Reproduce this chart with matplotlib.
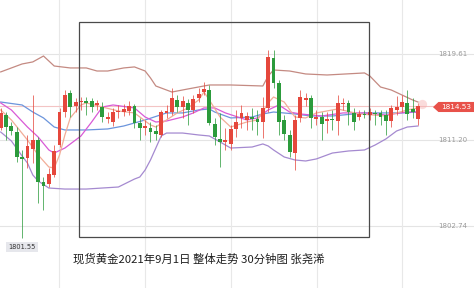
import matplotlib
matplotlib.use("Agg")
import matplotlib.pyplot as plt
from matplotlib.patches import Rectangle, Polygon
import numpy as np

plt.rcParams['font.family'] = ['Noto Sans CJK SC', 'DejaVu Sans']

# 30-minute spot gold candles: open, close, high, low
opens = [1812.36, 1813.63, 1812.55, 1811.96, 1809.51, 1809.41, 1810.30, 1811.18, 1807.06, 1806.86,
         1807.75, 1810.69, 1813.92, 1815.79, 1814.51, 1814.90, 1815.00, 1815.00, 1814.61, 1814.41,
         1813.24, 1812.94, 1813.92, 1813.92, 1814.02, 1814.51, 1812.85, 1812.36, 1812.36, 1812.06,
         1811.67, 1813.83, 1813.92, 1815.10, 1814.41, 1814.81, 1814.12, 1815.30, 1815.88, 1816.08,
         1812.75, 1811.28, 1810.98, 1810.79, 1812.26, 1813.34, 1813.14, 1813.43, 1813.24, 1812.94,
         1814.32, 1819.22, 1816.77, 1813.14, 1811.67, 1809.90, 1813.34, 1815.10, 1815.30, 1813.24,
         1813.43, 1813.04, 1813.24, 1813.04, 1814.71, 1814.81, 1813.83, 1813.43, 1813.73, 1813.63,
         1813.83, 1813.83, 1813.63, 1813.04, 1814.12, 1814.41, 1814.81, 1814.22, 1813.24]
closes = [1813.83, 1812.45, 1812.06, 1809.51, 1809.32, 1810.59, 1811.18, 1807.06, 1806.67, 1807.85,
          1810.10, 1813.92, 1815.59, 1814.41, 1814.90, 1815.00, 1814.81, 1814.41, 1814.81, 1813.43,
          1813.43, 1813.92, 1814.02, 1814.22, 1814.51, 1812.85, 1812.36, 1812.55, 1811.96, 1811.77,
          1813.92, 1814.02, 1815.30, 1814.41, 1815.00, 1814.12, 1815.20, 1815.69, 1816.18, 1812.85,
          1811.47, 1810.98, 1811.18, 1812.26, 1812.94, 1813.83, 1813.53, 1813.24, 1812.94, 1814.32,
          1819.32, 1816.77, 1812.94, 1811.77, 1810.00, 1813.14, 1815.39, 1815.30, 1813.34, 1813.43,
          1812.75, 1813.24, 1813.14, 1814.81, 1814.81, 1813.92, 1812.94, 1813.73, 1813.63, 1813.92,
          1813.73, 1813.43, 1813.04, 1814.32, 1814.41, 1814.90, 1813.73, 1813.92, 1814.53]
highs = [1814.32, 1813.92, 1812.94, 1812.45, 1810.20, 1811.67, 1815.59, 1811.47, 1807.55, 1808.43,
         1810.69, 1814.32, 1816.08, 1816.08, 1815.30, 1815.39, 1815.39, 1815.30, 1815.10, 1814.90,
         1813.92, 1814.32, 1814.61, 1814.71, 1815.00, 1814.71, 1813.34, 1813.14, 1812.94, 1812.65,
         1814.12, 1814.61, 1816.28, 1815.59, 1815.49, 1815.20, 1815.59, 1816.28, 1816.86, 1816.57,
         1813.34, 1813.83, 1812.36, 1812.65, 1814.12, 1814.61, 1813.92, 1814.32, 1814.12, 1815.39,
         1820.00, 1820.00, 1817.06, 1813.63, 1812.16, 1813.63, 1816.08, 1815.79, 1815.59, 1814.12,
         1813.92, 1813.92, 1814.12, 1815.59, 1815.30, 1815.10, 1814.32, 1814.12, 1814.12, 1814.32,
         1814.12, 1814.12, 1814.12, 1814.61, 1815.49, 1815.59, 1816.08, 1815.30, 1814.81]
lows = [1812.16, 1811.18, 1811.67, 1809.02, 1801.55, 1808.43, 1808.92, 1805.00, 1804.32, 1806.57,
        1807.55, 1810.49, 1813.43, 1813.43, 1813.92, 1814.12, 1813.63, 1813.92, 1814.12, 1812.94,
        1812.85, 1812.55, 1813.34, 1813.53, 1813.63, 1812.36, 1811.18, 1811.67, 1810.98, 1811.18,
        1811.47, 1813.34, 1813.63, 1813.92, 1813.34, 1812.65, 1813.83, 1814.90, 1815.59, 1812.65,
        1810.69, 1808.53, 1810.20, 1810.20, 1811.47, 1812.36, 1812.16, 1812.16, 1811.67, 1811.37,
        1813.92, 1816.28, 1811.67, 1811.18, 1809.51, 1808.24, 1812.94, 1814.51, 1812.36, 1812.65,
        1811.18, 1811.86, 1812.16, 1811.67, 1814.12, 1812.65, 1812.16, 1813.14, 1813.34, 1813.14,
        1812.65, 1812.65, 1811.67, 1812.45, 1813.63, 1813.92, 1813.14, 1813.34, 1812.65]

# Bollinger bands and moving averages, sampled at candle positions
upper_idx = [0, 4, 6, 8, 10, 13, 16, 18, 20, 23, 25, 27, 28, 29, 32, 35, 39, 43, 49, 50, 51, 54,
             57, 61, 68, 69, 71, 73, 75, 77, 78]
upper_val = [1817.85, 1818.63, 1818.83, 1819.41, 1818.43, 1818.24, 1818.24, 1817.94, 1817.94,
             1818.24, 1818.34, 1817.94, 1817.26, 1816.47, 1815.88, 1816.18, 1816.57, 1816.57,
             1816.47, 1817.45, 1818.04, 1817.94, 1817.65, 1817.55, 1817.75, 1817.45, 1816.37,
             1816.08, 1815.59, 1815.10, 1814.90]
lower_idx = [0, 2, 4, 5, 6, 7, 9, 12, 16, 19, 22, 25, 26, 27, 28, 29, 30, 31, 34, 37, 39, 40, 43,
             47, 49, 50, 51, 53, 55, 57, 59, 62, 65, 68, 70, 72, 74, 76, 78]
lower_val = [1811.96, 1811.08, 1809.61, 1808.92, 1807.75, 1807.16, 1806.47, 1806.37, 1806.37,
             1806.47, 1806.57, 1807.35, 1807.55, 1808.24, 1809.22, 1810.39, 1811.57, 1811.86,
             1811.86, 1811.67, 1811.57, 1811.28, 1810.39, 1810.49, 1810.79, 1810.59, 1810.20,
             1809.51, 1809.22, 1809.12, 1809.32, 1809.90, 1810.10, 1810.20, 1810.69, 1811.28,
             1812.06, 1812.45, 1812.55]
mid_idx = [0, 4, 6, 8, 10, 12, 16, 20, 23, 27, 31, 34, 37, 39, 40, 43, 47, 49, 51, 55, 58, 62,
           68, 75, 78]
mid_val = [1814.90, 1814.61, 1813.92, 1813.34, 1812.45, 1812.16, 1812.16, 1812.26, 1812.55,
           1813.14, 1813.83, 1813.83, 1814.12, 1814.22, 1813.92, 1813.34, 1813.43, 1813.73,
           1813.92, 1813.73, 1813.53, 1813.53, 1813.83, 1813.83, 1813.92]
ma_slow_idx = [0, 2, 5, 7, 9, 10, 12, 15, 17, 19, 21, 25, 27, 29, 31, 34, 36, 38, 40, 42, 46, 48,
               50, 52, 54, 56, 60, 64, 68, 72, 76, 78]
ma_slow_val = [1814.81, 1814.12, 1812.45, 1811.47, 1810.20, 1809.90, 1810.39, 1811.57, 1812.94,
               1814.41, 1814.61, 1814.32, 1813.43, 1812.94, 1813.04, 1813.43, 1813.83, 1814.32,
               1814.32, 1813.83, 1813.14, 1813.34, 1814.12, 1814.61, 1813.92, 1813.73, 1813.53,
               1813.83, 1813.83, 1813.63, 1813.92, 1813.92]
ma_fast_idx = [0, 2, 5, 7, 9, 10, 11, 12, 13, 15, 16, 19, 22, 25, 28, 29, 31, 33, 35, 37, 38, 39,
               41, 43, 46, 48, 50, 51, 53, 55, 57, 59, 63, 67, 72, 76, 78]
ma_fast_val = [1814.12, 1813.14, 1811.18, 1809.71, 1808.53, 1808.43, 1809.71, 1811.67, 1813.34,
               1814.61, 1814.81, 1814.41, 1814.02, 1813.83, 1812.65, 1812.45, 1813.14, 1813.83,
               1814.32, 1815.10, 1815.88, 1815.10, 1813.43, 1812.45, 1812.94, 1813.14, 1814.81,
               1815.39, 1814.90, 1813.43, 1813.34, 1813.83, 1814.22, 1813.73, 1813.53, 1814.12,
               1814.32]

grid_prices = [1819.61, 1811.20, 1802.74]
last_price = 1814.53
period_low = 1801.55
title = "现货黄金2021年9月1日 整体走势 30分钟图 张尧浠"

UP = "#e5473c"
DOWN = "#2c9b3c"

fig = plt.figure(figsize=(4.74, 2.88), dpi=100)
ax = fig.add_axes([0, 0, 1, 1])
ax.set_xlim(-0.13, 88.47)
ax.set_ylim(1796.67, 1824.90)
ax.axis("off")

# grid
for gp in grid_prices:
    ax.axhline(gp, color="#e4e4e4", lw=0.8, zorder=0)
for gx in [10.9, 27.0, 43.0, 59.1, 75.0]:
    ax.axvline(gx, color="#e8e8e8", lw=0.8, zorder=0)
ax.axhline(last_price, color="#f3c4c4", lw=0.8, zorder=0)

# indicator lines
ax.plot(upper_idx, upper_val, color="#c48a82", lw=0.9, zorder=2)
ax.plot(lower_idx, lower_val, color="#a58ad0", lw=0.9, zorder=2)
ax.plot(mid_idx, mid_val, color="#6c95dc", lw=0.9, zorder=2)
ax.plot(ma_slow_idx, ma_slow_val, color="#d95ad6", lw=0.9, zorder=2)
ax.plot(ma_fast_idx, ma_fast_val, color="#f2ad98", lw=0.9, zorder=2)

# candles
idx = np.arange(len(opens))
o = np.array(opens); c = np.array(closes)
colors = [UP if cc >= oo else DOWN for oo, cc in zip(o, c)]
ax.vlines(idx, lows, highs, colors=colors, lw=0.7, alpha=0.75, zorder=3)
body_low = np.minimum(o, c)
body_h = np.maximum(np.abs(c - o), 0.12)
ax.bar(idx, body_h, bottom=body_low, width=0.72, color=colors, lw=0, zorder=4)

# framed region
ax.add_patch(Rectangle((0.1667, 0.177), 0.6118, 0.7466, transform=ax.transAxes,
                       fill=False, ec="#4a4a4a", lw=0.9, zorder=5))

# right-side price labels
for gp in grid_prices:
    ax.text(87.2, gp, f"{gp:.2f}", color="#9a9a9a", fontsize=5, ha="right", va="center",
            family="DejaVu Sans", zorder=6)

# last price tag
last_i = len(opens) - 1
ax.scatter([last_i + 0.75], [last_price + 0.15], s=45, color="#f6b0b0", alpha=0.45, lw=0, zorder=3)
tag = Polygon([(0.9135, 0.628), (0.925, 0.646), (1.0, 0.646), (1.0, 0.611), (0.925, 0.611)],
              closed=True, transform=ax.transAxes, fc="#e8524a", ec="none", zorder=6)
ax.add_patch(tag)
ax.text(0.963, 0.629, f"{last_price:.2f}", transform=ax.transAxes, color="white", fontsize=5.2,
        ha="center", va="center", family="DejaVu Sans", zorder=7)

# period low label
ax.text(4, 1800.7, f"{period_low:.2f}", color="#333333", fontsize=4.8, ha="center", va="center",
        family="DejaVu Sans", zorder=7,
        bbox=dict(boxstyle="square,pad=0.35", fc="#e6e7ec", ec="none"))

ax.text(0.154, 0.101, title, transform=ax.transAxes, fontsize=8.2, color="#1e1e1e",
        ha="left", va="center", zorder=7)

fig.savefig("out.png", dpi=100)
